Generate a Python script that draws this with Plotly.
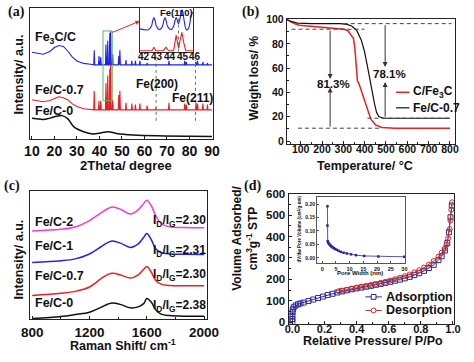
import plotly.graph_objects as go

W, H = 474, 362
FONT = "Liberation Sans, Arial, sans-serif"
SERIF = "Liberation Serif, Times New Roman, serif"
LC = "#222222"

# ---------------- (a) XRD ----------------
xrd_bg_x = [10, 12, 15, 18, 20, 22, 24, 26, 28, 30, 33, 36]
fe3c_bg = [65.9, 65.2, 64.4, 66.5, 69.5, 71.1, 70.4, 66.7, 62.2, 59.3, 57.4, 56.7]
fec07_bg = [29.6, 28.9, 28.1, 29.0, 30.7, 31.9, 31.2, 29.5, 26.5, 24.5, 22.8, 22.2]
fe3c_base = 56.3
fec07_base = 21.9
peak_2theta = [37.7, 39.8, 40.6, 42.9, 43.7, 44.6, 45.0, 45.9, 48.6, 49.1, 51.8, 54.4,
               56.0, 58.0, 61.2, 65.0, 70.9, 77.9, 78.6, 82.9, 83.6, 86.0, 88.0]
fe3c_peaks = [67.4, 63.0, 62.2, 71.9, 74.8, 80.7, 82.2, 64.4, 63.0, 67.4, 60.0, 59.3,
              59.3, 59.3, 57.8, 57.0, 59.3, 59.3, 58.5, 58.5, 59.3, 58.5, 57.8]
fec07_peaks = [36.3, 28.9, 28.9, 42.2, 48.1, 53.3, 64.4, 29.6, 33.3, 36.3, 27.4, 26.7,
               25.9, 26.7, 25.2, 23.7, 27.4, 26.7, 25.9, 27.4, 26.7, 26.7, 25.9]
fec0_x = [10, 12, 15, 18, 21, 23.5, 26, 28.7, 33, 37, 41, 44, 47.6, 55, 69, 80, 90]
fec0_y = [15.5, 15.2, 14.6, 15.6, 17.0, 17.5, 15.0, 8.9, 5.2, 3.5, 4.4, 5.2, 3.9, 2.7, 2.0, 1.7, 1.5]
fe_lines = [65.2, 82.7]          # Fe(200), Fe(211) guide positions

# inset of (a)
ins_blue_x = [41.65, 42.3, 42.55, 42.65, 42.75, 42.85, 42.95, 43.2, 43.42, 43.52, 43.62, 43.72,
              43.82, 44.1, 44.3, 44.4, 44.5, 44.6, 44.68, 44.78, 44.87, 44.95, 45.03, 45.12,
              45.3, 45.45, 45.58, 45.7, 45.82]
ins_blue_y = [52, 50, 58, 70, 78, 70, 58, 50, 58, 70, 78, 70, 58, 50, 58, 70, 78, 70, 64, 72,
              90, 96, 90, 72, 50, 52, 66, 86, 90]
ins_red_x = [41.65, 42.6, 42.75, 42.9, 43.5, 43.7, 43.9, 44.3, 44.4, 44.5, 44.6, 44.7, 44.8,
             44.95, 45.1, 45.25, 45.82]
ins_red_y = [2, 2, 10, 2, 2, 10, 2, 2, 20, 38, 20, 8, 25, 44, 20, 2, 2]
inset_ticks = [42, 43, 44, 45, 46]
fe110_pos = 44.68

# ---------------- (b) TGA ----------------
tga_T_red = [35, 48, 70, 94, 139, 199, 259, 303, 321, 347, 354, 362, 366, 373, 384, 399, 414,
             429, 451, 481, 540, 800]
tga_W_red = [100, 98.6, 96.6, 95.2, 94.4, 93.4, 92.6, 92, 91, 84.6, 76.6, 60.7, 49.5, 47.3,
             41.5, 32.7, 24.7, 18, 13.3, 11.2, 10.6, 10.6]
tga_T_blk = [35, 55, 85, 152, 287, 317, 339, 362, 384, 399, 414, 424.5, 436, 447, 456, 466, 488, 800]
tga_W_blk = [100, 98.4, 97, 96.6, 96.6, 96, 94.7, 91.2, 83.2, 73.9, 60.7, 50, 39.3, 30, 23.4,
             20.2, 18.8, 18.8]
tga_guides = [(302, 807, 96.6), (57, 399, 92.0), (413, 807, 18.8), (87, 480, 10.6)]
loss_labels = ["81.3%", "78.1%"]

# ---------------- (c) Raman ----------------
raman_x = [800, 1000, 1100, 1200, 1280, 1330, 1362, 1420, 1486, 1540, 1580, 1600, 1632,
           1662, 1700, 1760, 1850, 2000]
raman_fec0 = [0.8, 2.3, 3.8, 5.6, 9.4, 12, 12.8, 11.5, 9, 9.8, 12.5, 16.2, 13.3, 7.5, 4.1, 3, 2.6, 2.6]
raman_fec07 = [18.6, 20.3, 21.8, 25.2, 31.6, 35, 35.9, 34.4, 32.1, 34.6, 39.1, 41.1, 36.6,
               30.3, 27.4, 26.3, 26.1, 26.1]
raman_fec1 = [44.1, 45.5, 47, 50.8, 56.4, 59.8, 60.9, 59, 55.9, 58.6, 63.9, 66.7, 61.7, 54.9,
              51.9, 50.8, 50.5, 50.4]
raman_fec2 = [68.6, 69.9, 71.7, 76.7, 82.7, 86.1, 87.2, 85.3, 81.7, 85, 90.2, 92.5, 88, 80.5,
              74.4, 71.8, 71.3, 71.2]
raman_names = ["Fe/C-2", "Fe/C-1", "Fe/C-0.7", "Fe/C-0"]
raman_ratio = ["2.30", "2.31", "2.30", "2.38"]

# ---------------- (d) BET ----------------
ads_P = [0.0, 0.0, 0.0, 0.001, 0.003, 0.008, 0.02, 0.035, 0.05, 0.07, 0.10, 0.13, 0.16, 0.19,
         0.22, 0.25, 0.28, 0.31, 0.34, 0.37, 0.40, 0.43, 0.46, 0.49, 0.52, 0.55, 0.58, 0.61,
         0.64, 0.67, 0.70, 0.73, 0.76, 0.79, 0.82, 0.85, 0.88, 0.91, 0.93, 0.95, 0.965, 0.975,
         0.985, 0.993]
ads_V = [3, 15, 30, 47, 60, 70, 78, 84, 88, 92, 99, 106, 113, 120, 127, 133, 139, 144, 149,
         154, 158, 162, 166, 170, 175, 179, 184, 189, 194, 199, 205, 212, 220, 229, 240, 253,
         268, 290, 308, 335, 370, 420, 490, 545]
des_P = [0.995, 0.99, 0.985, 0.98, 0.97, 0.96, 0.95, 0.93, 0.91, 0.88, 0.85, 0.82, 0.79, 0.76,
         0.73, 0.70, 0.67, 0.64, 0.61, 0.58, 0.55, 0.52, 0.49, 0.46, 0.43, 0.40, 0.37, 0.34,
         0.31, 0.29]
des_V = [560, 525, 475, 435, 392, 362, 345, 325, 306, 286, 269, 255, 243, 233, 223, 215, 208,
         201, 195, 189, 184, 179, 174, 170, 166, 162, 157, 152, 148, 145]
pore_w = [1.9, 1.9, 2.0, 2.2, 2.5, 2.8, 3.1, 3.4, 3.8, 4.2, 4.7, 5.3, 6.0, 6.8, 7.8, 9.0, 10.5,
          12.3, 15.3, 20.5, 30.0]
pore_v = [0.192, 0.12, 0.062, 0.056, 0.052, 0.048, 0.045, 0.042, 0.039, 0.036, 0.033, 0.030,
          0.026, 0.022, 0.019, 0.016, 0.013, 0.010, 0.007, 0.005, 0.004]

BLUE = "#2323e6"
RED = "#ee1d23"
MAG = "#f03cd0"
NAVY = "#28289a"
DRED = "#c0302e"


def PX(x):
    return x / W


def PY(y):
    return 1 - y / H


def dx(a, b):
    return [PX(a), PX(b)]


def dy(top, bottom):
    return [PY(bottom), PY(top)]


# build XRD traces from background + peak list
def xrd_xy(bg_x, bg_y, base, pos, tops):
    xs, ys = list(bg_x), list(bg_y)
    for p, t in zip(pos, tops):
        xs += [p - 0.22, p, p + 0.22]
        ys += [base, t, base]
    xs.append(90)
    ys.append(base)
    return xs, ys


fig = go.Figure()


def line(x, y, ax, color, width=1.2, shape="linear"):
    fig.add_trace(go.Scatter(x=x, y=y, mode="lines", xaxis="x" + ax, yaxis="y" + ax,
                             line=dict(color=color, width=width, shape=shape),
                             showlegend=False, hoverinfo="skip"))


# (a)
bx, by = xrd_xy(xrd_bg_x, fe3c_bg, fe3c_base, peak_2theta, fe3c_peaks)
rx, ry = xrd_xy(xrd_bg_x, fec07_bg, fec07_base, peak_2theta, fec07_peaks)
line(fec0_x, fec0_y, "", "#111111", 1.5, "spline")
line(rx, ry, "", RED, 1.1)
line(bx, by, "", BLUE, 1.1)
line(ins_red_x, ins_red_y, "5", RED, 1.1)
line(ins_blue_x, ins_blue_y, "5", BLUE, 1.1, "spline")

# (b)
line(tga_T_red, tga_W_red, "2", RED, 1.5)
line(tga_T_blk, tga_W_blk, "2", "#111111", 1.2)

# (c)
line(raman_x, raman_fec0, "3", "#111111", 1.5, "spline")
line(raman_x, raman_fec07, "3", RED, 1.5, "spline")
line(raman_x, raman_fec1, "3", BLUE, 1.5, "spline")
line(raman_x, raman_fec2, "3", MAG, 1.5, "spline")

# (d)
fig.add_trace(go.Scatter(x=ads_P, y=ads_V, mode="lines+markers", xaxis="x4", yaxis="y4",
                         line=dict(color=NAVY, width=1),
                         marker=dict(symbol="square-open", size=5, color=NAVY, line=dict(width=1, color=NAVY)),
                         showlegend=False, hoverinfo="skip"))
fig.add_trace(go.Scatter(x=des_P, y=des_V, mode="lines+markers", xaxis="x4", yaxis="y4",
                         line=dict(color=DRED, width=1),
                         marker=dict(symbol="circle-open", size=5, color=DRED, line=dict(width=1, color=DRED)),
                         showlegend=False, hoverinfo="skip"))
fig.add_trace(go.Scatter(x=pore_w, y=pore_v, mode="lines+markers", xaxis="x6", yaxis="y6",
                         line=dict(color=NAVY, width=0.8),
                         marker=dict(symbol="square", size=2.5, color=NAVY),
                         showlegend=False, hoverinfo="skip"))


def axis(dom, rng, anchor, **kw):
    d = dict(domain=dom, range=rng, anchor=anchor, showline=True, linecolor=LC, linewidth=1,
             mirror=True, ticks="inside", ticklen=3, tickcolor=LC, showgrid=False,
             zeroline=False, tickfont=dict(family=FONT, size=12, color="#111", weight="bold"))
    d.update(kw)
    return d


def tf(size):
    return dict(family=FONT, size=size, color="#111", weight="bold")


INS_A_DOM = (137, 192.5)
INS_A_RNG = [41.65, 45.82]

layout = dict(
    width=W, height=H, autosize=False, margin=dict(l=0, r=0, t=0, b=0),
    paper_bgcolor="white", plot_bgcolor="white",
    font=dict(family=FONT, size=12, color="#111", weight="bold"),
    # (a)
    xaxis=axis(dx(22.3, 213.3), [9.3, 90.4], "y", tickvals=list(range(10, 91, 10)), tickfont=tf(14)),
    yaxis=axis(dy(1.7, 136.7), [0, 100], "x", showticklabels=False, ticks=""),
    # (b)
    xaxis2=axis(dx(290.7, 467), [35, 825], "y2", tickvals=list(range(100, 801, 100)), tickfont=tf(10.5),
                ticklabelstandoff=-5,
                minor=dict(ticks="inside", ticklen=2, dtick=50, tickcolor=LC)),
    yaxis2=axis(dy(13.3, 142.7), [-2.7, 100.5], "x2", tickvals=list(range(0, 101, 20)), tickfont=tf(10.5),
                minor=dict(ticks="inside", ticklen=2, dtick=10, tickcolor=LC)),
    # (c)
    xaxis3=axis(dx(21.7, 207), [783, 2019], "y3", tickvals=[800, 1200, 1600, 2000], tickfont=tf(13.5),
                minor=dict(ticks="inside", ticklen=2, dtick=200, tickcolor=LC)),
    yaxis3=axis(dy(190.3, 323.3), [0, 100], "x3", showticklabels=False, ticks=""),
    # (d)
    xaxis4=axis(dx(292.5, 466), [-0.024, 1.009], "y4", tickvals=[0, 0.2, 0.4, 0.6, 0.8, 1.0],
                tickformat=".1f", tickfont=tf(11), ticklabelstandoff=-5,
                minor=dict(ticks="inside", ticklen=2, dtick=0.1, tickcolor=LC)),
    yaxis4=axis(dy(193.5, 327.5), [-6, 600.5], "x4", tickvals=list(range(0, 601, 100)), tickfont=tf(11.5),
                minor=dict(ticks="inside", ticklen=2, dtick=50, tickcolor=LC)),
    # inset (a)
    xaxis5=axis(dx(*INS_A_DOM), INS_A_RNG, "y5", showticklabels=False, ticks="", linecolor="#333"),
    yaxis5=axis(dy(2, 47), [0, 100], "x5", showticklabels=False, ticks="", linecolor="#333"),
    # inset (d)
    xaxis6=axis(dx(322.3, 414.3), [-1.9, 30.2], "y6", tickvals=[0, 5, 10, 15, 20, 25, 30],
                tickfont=tf(5.5), ticklen=2, linecolor="#555", tickcolor="#555", ticklabelstandoff=0),
    yaxis6=axis(dy(197, 265), [-0.019, 0.226], "x6", tickvals=[0, 0.05, 0.10, 0.15, 0.20],
                tickformat=".2f", tickfont=tf(5), ticklen=2, linecolor="#555", tickcolor="#555"),
)

ann = []


def text(t, x, y, size=12, xanchor="center", angle=0, family=FONT, color="#111"):
    ann.append(dict(text=t, x=PX(x), y=PY(y), xref="paper", yref="paper", showarrow=False,
                    xanchor=xanchor, yanchor="middle", textangle=angle,
                    font=dict(family=family, size=size, color=color, weight="bold")))


# panel letters
text("(a)", 8, 6, 14, family=SERIF)
text("(b)", 253, 6, 14, family=SERIF)
text("(c)", 3, 186, 14, family=SERIF)
text("(d)", 255, 186, 14, family=SERIF)

# (a) texts
text("Intensity/ a.u.", 10, 71, 12.5, angle=-90)
text("2Theta/ degree", 122, 165, 13)
text("Fe<sub>3</sub>C/C", 25, 33, 12.5, "left")
text("Fe/C-0.7", 25, 87, 12.5, "left")
text("Fe/C-0", 25, 108, 12.5, "left")
text("Fe(200)", 155, 80, 12)
text("Fe(211)", 192, 95, 12)
text("Fe(110)", 175, 7, 9.5)
# inset tick labels (placed through the inset axis mapping; 46 lies just past the frame)
sc = (INS_A_DOM[1] - INS_A_DOM[0]) / (INS_A_RNG[1] - INS_A_RNG[0])
for t in inset_ticks:
    text(str(t), INS_A_DOM[0] + (t - INS_A_RNG[0]) * sc, 52.5, 10)
# red arrow from zoom box to inset
ann.append(dict(text="", x=PX(137), y=PY(15.5), xref="paper", yref="paper", showarrow=True,
                ax=-29, ay=12, arrowhead=2, arrowsize=0.9, arrowwidth=1, arrowcolor=RED))

# (b) texts
text("Weight loss/ %", 256, 74, 12, angle=-90)
text("Temperature/ °C", 372, 165, 12.5)
text("C/Fe<sub>3</sub>C", 421, 89, 12, "left")
text("Fe/C-0.7", 421, 105, 12, "left")
ann.append(dict(text=loss_labels[0], x=254, y=47.3, xref="x2", yref="y2", showarrow=False, font=tf(11.5)))
ann.append(dict(text=loss_labels[1], x=515, y=54.8, xref="x2", yref="y2", showarrow=False, font=tf(11.5)))
for (xa, y_head, y_tail) in [(238, 51, 92), (238, 44, 10.6), (496, 61, 96.6), (496, 48.5, 18.8)]:
    ann.append(dict(text="", x=xa, y=y_head, ax=xa, ay=y_tail, xref="x2", yref="y2", axref="x2",
                    ayref="y2", showarrow=True, arrowhead=2, arrowsize=1, arrowwidth=1,
                    arrowcolor="#333"))

# (c) texts
text("Intensity/ a.u.", 10, 262, 12.5, angle=-90)
text("Raman Shift/ cm<sup>-1</sup>", 119, 350, 12.5)
for nm, yy in zip(raman_names, [222.7, 247.7, 278.3, 306]):
    text(nm, 25, yy, 12.5, "left")
for r, yy in zip(raman_ratio, [221.7, 252.7, 277.7, 309.3]):
    ann.append(dict(text="I<sub>D</sub>/I<sub>G</sub>=" + r, x=PX(208), y=PY(yy), xref="paper",
                    yref="paper", showarrow=False, xanchor="right", yanchor="middle", font=tf(12)))

# (d) texts
text("Volume Adsorbed/<br>cm<sup>3</sup>g<sup>-1</sup> STP", 247, 240, 12, angle=-90)
text("Relative Pressure/ P/Po", 381, 345, 12.5)
text("Adsorption", 392, 300, 12.5, "left")
text("Desorption", 392, 314, 12.5, "left")
text("Pore Width (nm)", 367, 275.5, 6)
text("dV/dw Pore Volume (cm<sup>3</sup>/g·nm)", 304, 230, 4.5, angle=-90)

layout["annotations"] = ann

shapes = []
# zoom box in (a)
shapes.append(dict(type="rect", xref="x", yref="y", x0=41.6, x1=45.7, y0=28.9, y1=82.2,
                   line=dict(color="#5cb85c", width=1)))
for xv in fe_lines:
    shapes.append(dict(type="line", xref="x", yref="y", x0=xv, x1=xv, y0=13.5, y1=60,
                       line=dict(color="#5f7a5f", width=1, dash="3px,3px")))
shapes.append(dict(type="line", xref="x5", yref="y5", x0=fe110_pos, x1=fe110_pos, y0=0, y1=78,
                   line=dict(color="#5f7a5f", width=1, dash="3px,3px")))
# TGA guides
for x0, x1, yv in tga_guides:
    shapes.append(dict(type="line", xref="x2", yref="y2", x0=x0, x1=x1, y0=yv, y1=yv,
                       line=dict(color="#444", width=1, dash="4px,3px")))
# legend (b)
shapes.append(dict(type="line", xref="paper", yref="paper", x0=PX(405), x1=PX(419), y0=PY(89), y1=PY(89),
                   line=dict(color=RED, width=1.5)))
shapes.append(dict(type="line", xref="paper", yref="paper", x0=PX(405), x1=PX(419), y0=PY(105), y1=PY(105),
                   line=dict(color="#111", width=1.2)))
# legend (d)
shapes.append(dict(type="line", xref="paper", yref="paper", x0=PX(373), x1=PX(390), y0=PY(300), y1=PY(300),
                   line=dict(color=NAVY, width=1)))
shapes.append(dict(type="rect", xref="paper", yref="paper", x0=PX(379), x1=PX(384), y0=PY(302.5), y1=PY(297.5),
                   line=dict(color=NAVY, width=1), fillcolor="white"))
shapes.append(dict(type="line", xref="paper", yref="paper", x0=PX(373), x1=PX(390), y0=PY(314), y1=PY(314),
                   line=dict(color=DRED, width=1)))
shapes.append(dict(type="circle", xref="paper", yref="paper", x0=PX(379), x1=PX(384), y0=PY(316.5), y1=PY(311.5),
                   line=dict(color=DRED, width=1), fillcolor="white"))
layout["shapes"] = shapes

fig.update_layout(**layout)
fig.write_html("out.html", config={"displayModeBar": False},
               post_script="document.body.style.margin='0';document.body.style.padding='0';")
